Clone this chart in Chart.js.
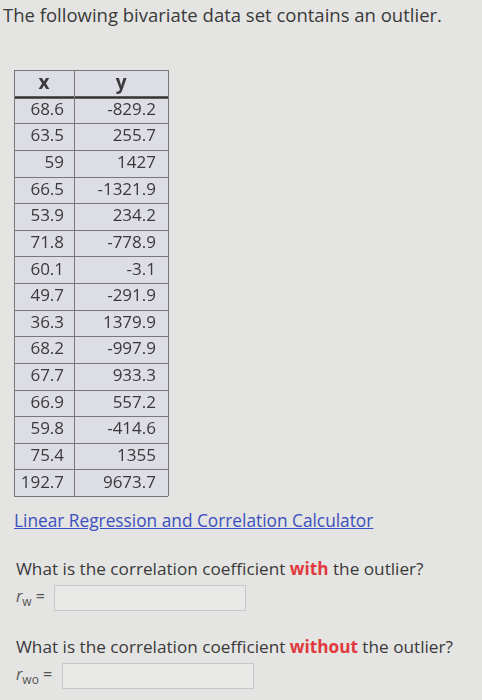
<!DOCTYPE html>
<html>
<head>
<meta charset="utf-8">
<script src="https://cdn.jsdelivr.net/npm/chart.js@4"></script>
<style>
  body { margin:0; width:482px; height:700px; background:#e4e4e2; font-family:"Open Sans", sans-serif; color:#3a3a3a; position:relative; overflow:hidden; }
  .title { position:absolute; left:3px; top:2px; font-size:18.5px; }
  .wrap { position:absolute; left:12px; top:68px; width:158px; height:430px; }
  .link { position:absolute; left:14px; top:509px; font-size:17.3px; color:#3b4fc0; text-decoration:underline; }
  .q { position:absolute; left:16px; font-size:17.2px; }
  .q b { color:#e0393e; }
  .r { position:absolute; left:16px; font-size:16px; font-style:italic; color:#555; }
  .r sub { font-style:normal; font-size:12px; }
  .box { position:absolute; height:24px; border:1px solid #c8c8c8; background:#e8e8e6; }
</style>
</head>
<body>
<div class="title">The following bivariate data set contains an outlier.</div>
<div class="wrap"><canvas id="tbl"></canvas></div>
<div class="link">Linear Regression and Correlation Calculator</div>
<div class="q" style="top:557px">What is the correlation coefficient <b>with</b> the outlier?</div>
<div class="r" style="top:585px">r<sub>w</sub> <span style="font-style:normal">=</span></div>
<div class="box" style="left:54px;top:585px;width:190px"></div>
<div class="q" style="top:635px">What is the correlation coefficient <b>without</b> the outlier?</div>
<div class="r" style="top:663px">r<sub>wo</sub> <span style="font-style:normal">=</span></div>
<div class="box" style="left:62px;top:663px;width:190px"></div>
<script>
const headers = ["x", "y"];
const xValues = ["68.6","63.5","59","66.5","53.9","71.8","60.1","49.7","36.3","68.2","67.7","66.9","59.8","75.4","192.7"];
const yValues = ["-829.2","255.7","1427","-1321.9","234.2","-778.9","-3.1","-291.9","1379.9","-997.9","933.3","557.2","-414.6","1355","9673.7"];

const rows = xValues.length + 1;

const tablePlugin = {
  id: "tablePlugin",
  afterDraw(chart) {
    const c = chart.ctx, sx = chart.scales.x, sy = chart.scales.y;
    const x0 = sx.getPixelForValue(0), x1 = sx.getPixelForValue(0.78), x2 = sx.getPixelForValue(2);
    c.save();
    c.fillStyle = "#dcdde5";
    c.fillRect(x0, sy.getPixelForValue(0), x2 - x0, sy.getPixelForValue(rows) - sy.getPixelForValue(0));
    for (let r = 0; r <= rows; r++) {
      const py = Math.round(sy.getPixelForValue(r)) + 0.5;
      c.lineWidth = r === 1 ? 2.5 : 1;
      c.strokeStyle = r === 1 ? "#333" : "#777";
      c.beginPath(); c.moveTo(x0, py); c.lineTo(x2, py); c.stroke();
    }
    c.lineWidth = 1; c.strokeStyle = "#777";
    [x0, x1, x2].forEach(px => {
      px = Math.round(px) + 0.5;
      c.beginPath(); c.moveTo(px, sy.getPixelForValue(0)); c.lineTo(px, sy.getPixelForValue(rows)); c.stroke();
    });
    c.fillStyle = "#3a3a3a";
    c.textBaseline = "middle";
    c.font = "bold 19px 'Open Sans', sans-serif";
    c.textAlign = "center";
    c.fillText(headers[0], (x0 + x1) / 2, sy.getPixelForValue(0.5));
    c.fillText(headers[1], (x1 + x2) / 2, sy.getPixelForValue(0.5));
    c.font = "17px 'Open Sans', sans-serif";
    c.textAlign = "right";
    xValues.forEach((v, i) => c.fillText(v, x1 - 10, sy.getPixelForValue(i + 1.5)));
    yValues.forEach((v, i) => c.fillText(v, x2 - 12, sy.getPixelForValue(i + 1.5)));
    c.restore();
  }
};

new Chart(document.getElementById("tbl"), {
  type: "scatter",
  data: { datasets: [{ data: [] }] },
  options: {
    responsive: true,
    maintainAspectRatio: false,
    animation: false,
    layout: { padding: 2 },
    plugins: { legend: { display: false }, tooltip: { enabled: false } },
    scales: {
      x: { type: "linear", min: 0, max: 2, display: false },
      y: { type: "linear", min: 0, max: rows, reverse: true, display: false }
    }
  },
  plugins: [tablePlugin]
});
</script>
</body>
</html>
